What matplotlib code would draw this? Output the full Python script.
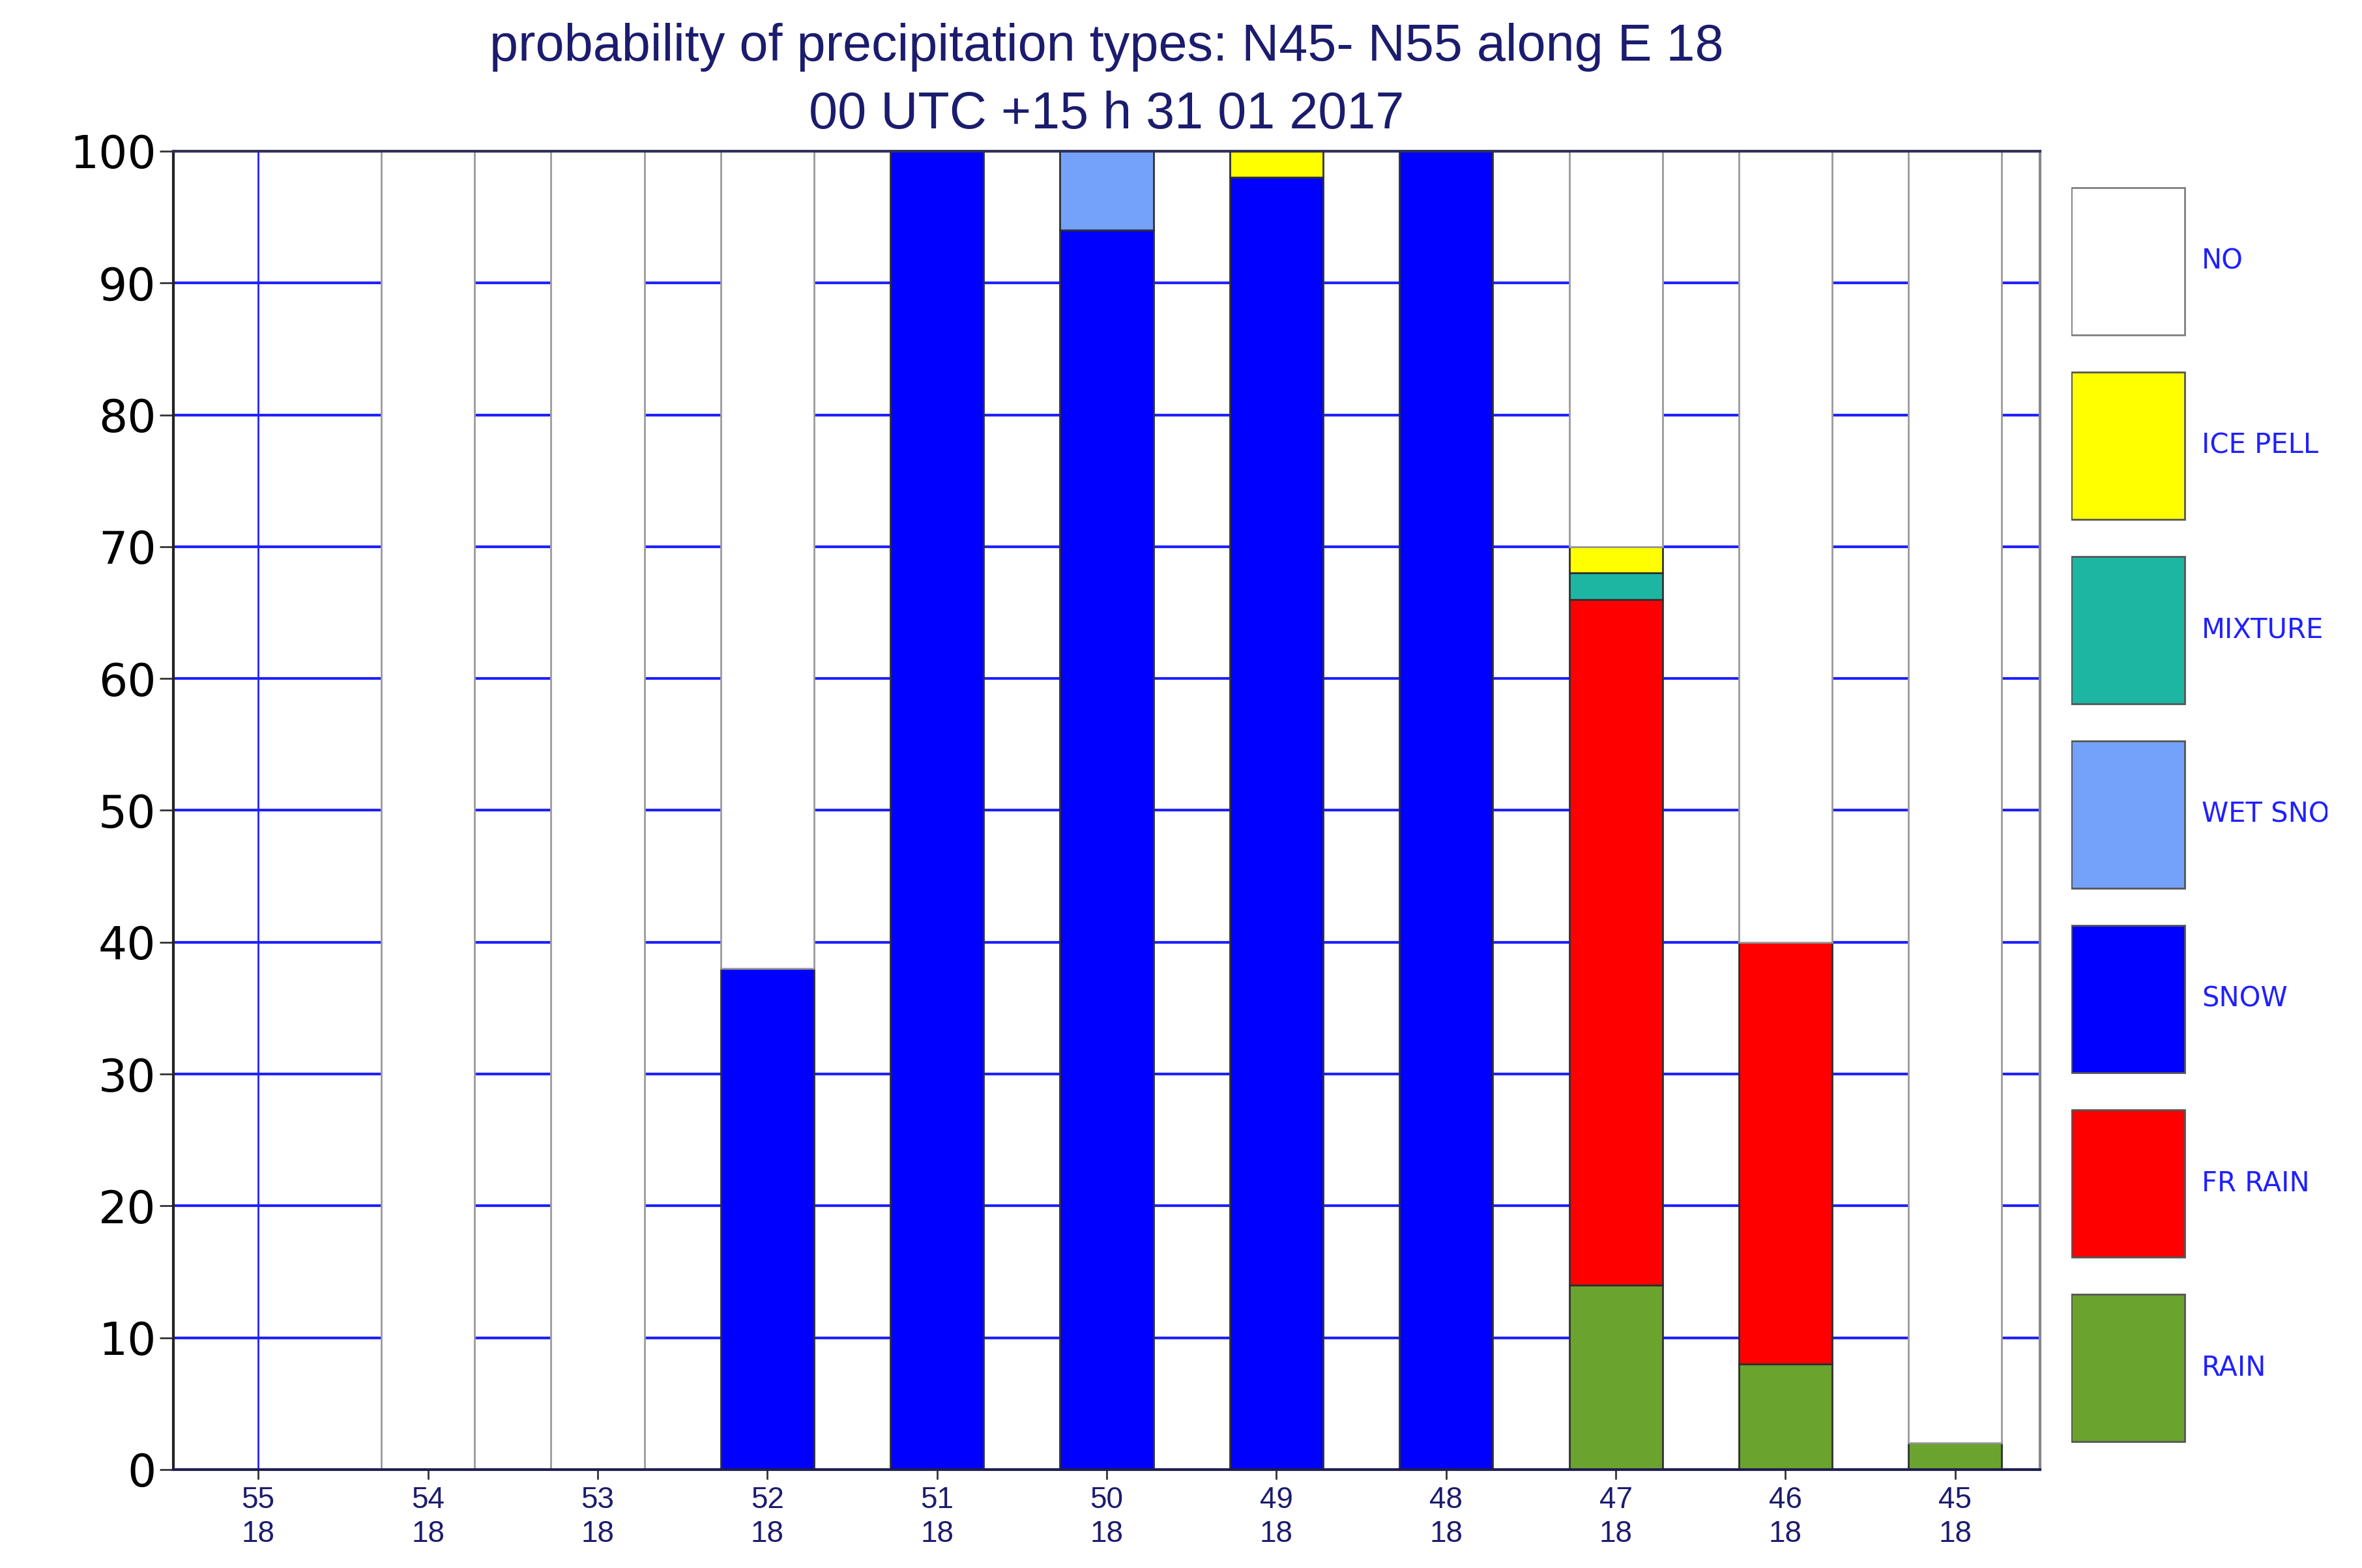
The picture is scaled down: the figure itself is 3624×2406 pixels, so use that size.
import matplotlib
matplotlib.use('Agg')
import matplotlib.pyplot as plt
import numpy as np

# latitude along E 18 (left to right)
lats = ['55', '54', '53', '52', '51', '50', '49', '48', '47', '46', '45']
lons = ['18'] * len(lats)

# probabilities (%), stacked bottom -> top
rain     = [0,   0,   0,  0,   0,  0,  0,   0, 14,  8,  2]
fr_rain  = [0,   0,   0,  0,   0,  0,  0,   0, 52, 32,  0]
snow     = [0,   0,   0, 38, 100, 94, 98, 100,  0,  0,  0]
wet_snow = [0,   0,   0,  0,   0,  6,  0,   0,  0,  0,  0]
mixture  = [0,   0,   0,  0,   0,  0,  0,   0,  2,  0,  0]
ice_pell = [0,   0,   0,  0,   0,  0,  2,   0,  2,  0,  0]
no_prec  = [0, 100, 100, 62,   0,  0,  0,   0, 30, 60, 98]

series = [
    ('RAIN', rain, '#6ba32f'),
    ('FR RAIN', fr_rain, '#ff0000'),
    ('SNOW', snow, '#0000ff'),
    ('WET SNOW', wet_snow, '#74a2fa'),
    ('MIXTURE', mixture, '#1db6a3'),
    ('ICE PELL', ice_pell, '#ffff00'),
    ('NO', no_prec, '#ffffff'),
]

navy = '#1c1c6e'
gridblue = '#2020ff'

fig = plt.figure(figsize=(36.24, 24.06), dpi=100)
ax = fig.add_axes([0.0734, 0.0628, 0.7903, 0.8408])

x = np.arange(len(lats))
bottom = np.zeros(len(lats))
for name, vals, col in series:
    vals = np.array(vals, dtype=float)
    edge = '#9a9a9a' if name == 'NO' else '#303030'
    m = vals > 0
    ax.bar(x[m], vals[m], bottom=bottom[m], width=0.55, color=col,
           edgecolor=edge, linewidth=2, zorder=2)
    bottom += vals

ax.set_xlim(-0.5, 10.5)
ax.set_ylim(0, 100)
ax.set_yticks(np.arange(0, 101, 10))
ax.set_xticks(x)
ax.set_xticklabels([a + '\n' + b for a, b in zip(lats, lons)],
                   fontfamily='Liberation Sans', fontsize=33, color=navy,
                   linespacing=1.25)
for t in ax.get_yticklabels():
    t.set_fontfamily('DejaVu Sans')
    t.set_fontsize(50)
ax.tick_params(axis='y', length=15, width=2, color='#333333', pad=4)
ax.tick_params(axis='x', length=11, width=2, color='#333333', pad=7)

ax.set_axisbelow(True)
ax.yaxis.grid(True, color=gridblue, linewidth=3, zorder=0)
ax.axvline(0, color=gridblue, linewidth=2, zorder=1)

ax.spines['left'].set_color('#222222')
ax.spines['bottom'].set_color('#1e1e50')
ax.spines['top'].set_color('#303058')
ax.spines['right'].set_color('#888888')
for s in ax.spines.values():
    s.set_linewidth(3)
    s.set_zorder(3)

# title (two lines)
fig.text(0.4685, 0.9613, 'probability of precipitation types: N45- N55 along E 18',
         ha='center', va='baseline', fontsize=57, color=navy,
         fontfamily='Liberation Sans')
fig.text(0.4685, 0.918, '00 UTC +15 h 31 01 2017',
         ha='center', va='baseline', fontsize=57, color=navy,
         fontfamily='Liberation Sans')

# legend boxes, labels clipped at the legend panel edge like the original
lax = fig.add_axes([3178 / 3624, 0.0688, 393 / 3624, 0.8234])
lax.set_xlim(0, 1)
lax.set_ylim(0, len(series))
lax.axis('off')
for i, (name, vals, col) in enumerate(series):
    edge = '#808080' if name == 'NO' else '#555555'
    lax.bar(0, 0.8, bottom=i + 0.1, width=174 / 393, align='edge', color=col,
            edgecolor=edge, linewidth=2)
    lax.text(200 / 393, i + 0.5, name, va='center', ha='left', fontsize=30,
             color=gridblue, fontfamily='DejaVu Sans', clip_on=True)

fig.savefig('out.png', dpi=100, facecolor='white')
